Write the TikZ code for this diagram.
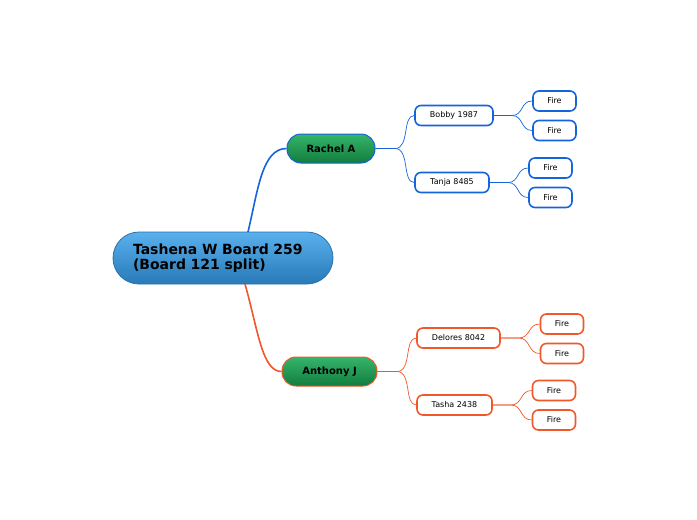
\documentclass[tikz,border=0pt]{standalone}
\usepackage{fontspec}
\setmainfont{DejaVu Sans}
\usetikzlibrary{calc}
\definecolor{bl}{HTML}{1464DC}
\definecolor{og}{HTML}{F0582A}
\definecolor{cb}{HTML}{2F8FD8}
\definecolor{cbt}{HTML}{5AB0EC}
\definecolor{gn}{HTML}{16924A}
\definecolor{gnt}{HTML}{35B56A}
\begin{document}
\begin{tikzpicture}[x=1pt,y=-1pt,
  central/.style={rounded corners=26pt,draw=cb!80!black,line width=0.8pt,top color=cbt,bottom color=cb!85!black,minimum width=220pt,minimum height=52pt,font=\bfseries\fontsize{14}{15}\selectfont,align=left,text width=180pt},
  mainb/.style={rounded corners=14pt,draw=#1,line width=1pt,top color=gnt,bottom color=gn!85!black,minimum height=29pt,font=\bfseries\fontsize{10}{12}\selectfont},
  sub/.style={rounded corners=6pt,draw=#1,line width=1.6pt,fill=white,minimum height=20pt,font=\fontsize{8}{10}\selectfont,inner xsep=4pt},
  leaf/.style={sub=#1,minimum width=43pt},
  con/.style={draw=#1,line width=0.7pt}]
\useasboundingbox (0,0) rectangle (697,520);
\node[central] (c) at (223,258) {Tashena W Board 259\\(Board 121 split)};
\node[mainb=bl,minimum width=88pt] (r) at (331,148.5) {Rachel A};
\node[mainb=og,minimum width=95pt] (a) at (329.5,371.5) {Anthony J};
\node[sub=bl,minimum width=78pt] (b1) at (454,115.5) {Bobby 1987};
\node[sub=bl,minimum width=74pt] (b2) at (452,182.5) {Tanja 8485};
\node[leaf=bl] (f1) at (554.5,101) {Fire};
\node[leaf=bl] (f2) at (554.5,130.5) {Fire};
\node[leaf=bl] (f3) at (550.5,168) {Fire};
\node[leaf=bl] (f4) at (550.5,197.5) {Fire};
\node[sub=og,minimum width=83pt] (d1) at (458.5,338) {Delores 8042};
\node[sub=og,minimum width=75pt] (d2) at (454.5,405) {Tasha 2438};
\node[leaf=og] (g1) at (562,324) {Fire};
\node[leaf=og] (g2) at (562,353.5) {Fire};
\node[leaf=og] (g3) at (554,390.5) {Fire};
\node[leaf=og] (g4) at (554,420) {Fire};
\coordinate (ct) at (248,232);
\coordinate (cbm) at (245,284);
\draw[con=bl,line width=1.6pt] (ct) .. controls (258,190) and (262,148.5) .. (r.west);
\draw[con=og,line width=1.6pt] (cbm) .. controls (258,330) and (262,371.5) .. (a.west);
\draw[con=bl] (r.east) -- (395,148.5) .. controls (410,148.5) and (402,115.5) .. (b1.west);
\draw[con=bl] (r.east) -- (395,148.5) .. controls (410,148.5) and (402,182.5) .. (b2.west);
\draw[con=og] (a.east) -- (397,371.5) .. controls (412,371.5) and (404,338) .. (d1.west);
\draw[con=og] (a.east) -- (397,371.5) .. controls (412,371.5) and (404,405) .. (d2.west);
\foreach \p/\a/\b/\m in {b1/f1/f2/bl,b2/f3/f4/bl,d1/g1/g2/og,d2/g3/g4/og}{
  \draw[con=\m] (\p.east) -- ++(18,0) coordinate (m) .. controls ($(m)+(12,0)$) and ($(\a.west)+(-12,0)$) .. (\a.west);
  \draw[con=\m] (\p.east) -- ++(18,0) coordinate (m) .. controls ($(m)+(12,0)$) and ($(\b.west)+(-12,0)$) .. (\b.west);
}
\end{tikzpicture}
\end{document}
